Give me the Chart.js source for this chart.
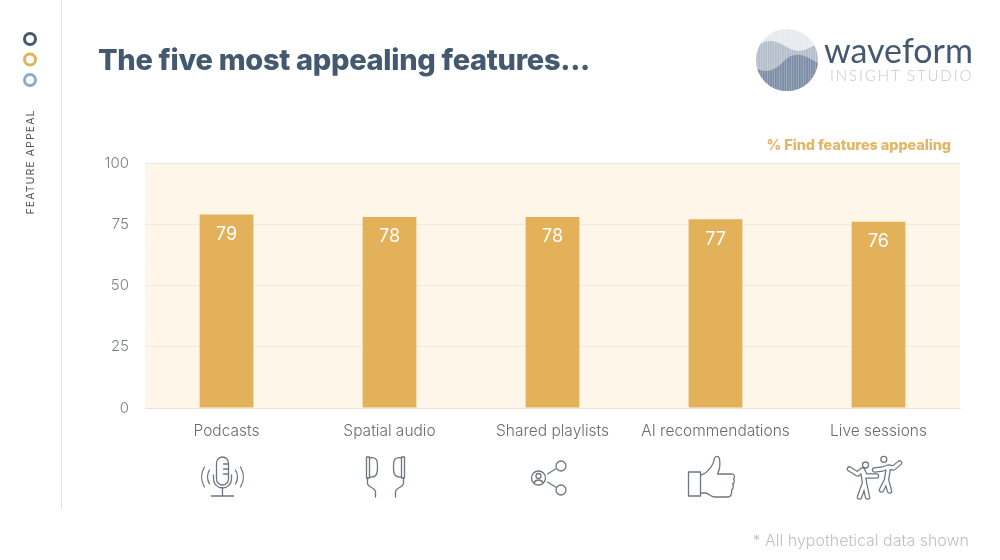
<!DOCTYPE html>
<html>
<head>
<meta charset="utf-8">
<title>Feature appeal</title>
<script src="https://cdn.jsdelivr.net/npm/chart.js@4/dist/chart.umd.min.js"></script>
<style>
  html, body { margin:0; padding:0; background:#fff; }
  body { width:1000px; height:560px; position:relative; overflow:hidden; font-family:Inter, sans-serif; }
  canvas { position:absolute; left:0; top:0; }
  .abs { position:absolute; white-space:nowrap; }
  #rule { left:61px; top:0; width:1px; height:510px; background:#e4e4e4; }
  #title { left:98px; top:40px; font-size:29px; line-height:40px; font-weight:800; color:#44586f; letter-spacing:-0.3px; }
  #side { left:30px; top:161.5px; transform:translate(-50%,-50%) rotate(-90deg); font-size:10.5px; letter-spacing:1.1px; color:#555; }
  #series { right:49px; top:136px; font-size:14.5px; line-height:18px; font-weight:800; color:#e2b665; letter-spacing:-0.1px; }
  #note { right:31px; top:530px; font-size:16px; line-height:20px; font-weight:300; color:#c0c0c0; }
  #brand { left:824px; top:29px; font-family:Lato, sans-serif; font-size:34px; line-height:42px; color:#44586f; }
  #studio { left:830px; top:66px; font-family:Lato, sans-serif; font-size:15px; line-height:18px; font-weight:300; letter-spacing:1.9px; color:#c4c7cb; }
</style>
</head>
<body>
<canvas id="chart" width="1000" height="560"></canvas>
<div class="abs" id="rule"></div>
<svg class="abs" style="left:20px;top:29px" width="20" height="62">
  <circle cx="10" cy="10" r="5.5" fill="none" stroke="#44586f" stroke-width="3"/>
  <circle cx="10" cy="30.5" r="5.5" fill="none" stroke="#e3b35c" stroke-width="3"/>
  <circle cx="10" cy="51" r="5.5" fill="none" stroke="#8aadc8" stroke-width="3"/>
</svg>
<div class="abs" id="side">FEATURE APPEAL</div>
<div class="abs" id="title">The five most appealing features...</div>
<svg class="abs" style="left:755px;top:28px" width="64" height="64" viewBox="0 0 64 64">
  <defs>
    <clipPath id="disc"><circle cx="32" cy="32" r="31"/></clipPath>
    <pattern id="stripes" width="2.4" height="4" patternUnits="userSpaceOnUse"><rect width="0.8" height="4" fill="#fff" opacity=".3"/></pattern>
  </defs>
  <g clip-path="url(#disc)">
    <rect width="64" height="64" fill="#e6e9ee"/>
    <path d="M0 20C10 10 20 12 30 18S48 26 64 14V64H0Z" fill="#b3bcc9"/>
    <path d="M0 40C12 46 20 42 28 34S44 22 64 36V64H0Z" fill="#7b8ca4"/>
    <rect width="64" height="64" fill="url(#stripes)"/>
  </g>
</svg>
<div class="abs" id="brand">waveform</div>
<div class="abs" id="studio">INSIGHT STUDIO</div>
<div class="abs" id="series">% Find features appealing</div>
<div class="abs" id="note">* All hypothetical data shown</div>

<script>
const categories = ['Podcasts', 'Spatial audio', 'Shared playlists', 'AI recommendations', 'Live sessions']
const appeal = [79, 78, 78, 77, 76]
const yTicks = [0, 25, 50, 75, 100]

const GREY = '#6f7680'

// icons are stroked around the centre of their category
const ICONS = [
  [
    'M-6 -14a6 6 0 0 1 12 0V2a6 6 0 0 1 -12 0Z',
    'M1 -13H6M1 -8H6M1 -3H6',
    'M-9 -2V2a9 9 0 0 0 18 0V-2',
    'M0 11V19M-11 19H11',
    'M-13 -7a14 14 0 0 0 0 14M13 -7a14 14 0 0 1 0 14',
    'M-18 -10a19 19 0 0 0 0 20M18 -10a19 19 0 0 1 0 20',
  ],
  [
    'M-19 -20h3v21h-3Z', 'M-16 -19C-8 -21 -8 -15 -8 -10S-8 1 -16 0',
    'M-18 1V6C-18 11 -10 10 -10 15V20',
    'M19 -20h-3v21h3Z', 'M16 -19C8 -21 8 -15 8 -10S8 1 16 0',
    'M18 1V6C18 11 10 10 10 15V20',
  ],
  [
    'M-3 1a7 7 0 1 0 -14 0a7 7 0 1 0 14 0Z',
    'M-7.5 -1a2.5 2.5 0 1 0 -5 0a2.5 2.5 0 1 0 5 0Z',
    'M-14.5 6C-13 2 -7 2 -5.5 6',
    'M17.5 -11a5 5 0 1 0 -10 0a5 5 0 1 0 10 0Z',
    'M17.5 13a5 5 0 1 0 -10 0a5 5 0 1 0 10 0Z',
    'M-1 -3L7 -8M-1 5L7 10',
  ],
  [
    'M-23 -5H-11V19H-23Z',
    'M-11 -2C-5 -3 2 -11 3 -19C5 -22 8 -20 8 -18C9 -12 8 -7 6 -3H21C24 -2 23 1 22 2C24 4 22 7 21 7C23 9 21 13 20 13C21 16 19 20 17 20H3C-1 20 -3 16 -6 16H-11',
  ],
  [
    'M-25 -8L-17 -3L-12 -7L-9 -1L2 -1M-12 -7L-10 6L-15 20M-10 6L-7 20',
    'M0 -7L8 -8L14 -10L19 -9L25 -14M14 -10L12 3L7 13M12 3L15 14',
  ],
]
const ICON_HEADS = [[-9, -12], [9.3, -17.7]]

const panel = {
  id: 'panel',
  beforeDatasetsDraw(chart) {
    const { ctx, chartArea: a } = chart
    ctx.save()
    ctx.globalCompositeOperation = 'destination-over'
    ctx.fillStyle = '#fdf6e9'
    ctx.fillRect(a.left, a.top, a.width, a.height)
    ctx.restore()
  },
}

const barLabels = {
  id: 'barLabels',
  afterDatasetsDraw(chart) {
    const { ctx } = chart
    const meta = chart.getDatasetMeta(0)
    ctx.save()
    ctx.fillStyle = '#fff'
    ctx.font = '18px Inter, sans-serif'
    ctx.textAlign = 'center'
    ctx.textBaseline = 'middle'
    meta.data.forEach((bar, i) => ctx.fillText(appeal[i], bar.x, bar.y + 20))
    ctx.restore()
  },
}

const icons = {
  id: 'icons',
  afterDraw(chart) {
    const { ctx, scales } = chart
    ctx.save()
    ctx.lineCap = 'round'
    ctx.lineJoin = 'round'
    ICONS.forEach((paths, i) => {
      ctx.save()
      ctx.translate(scales.x.getPixelForTick(i) - 4, 477)
      const dancers = i === 4
      const passes = dancers ? [[5.5, GREY], [3, '#fff']] : [[1.3, GREY]]
      passes.forEach(([w, c]) => {
        ctx.lineWidth = w
        ctx.strokeStyle = c
        paths.forEach(p => ctx.stroke(new Path2D(p)))
      })
      if (dancers) {
        ctx.lineWidth = 1.3
        ctx.strokeStyle = GREY
        ctx.fillStyle = '#fff'
        ICON_HEADS.forEach(([x, y]) => {
          ctx.beginPath()
          ctx.arc(x, y, 3, 0, Math.PI * 2)
          ctx.fill()
          ctx.stroke()
        })
      }
      ctx.restore()
    })
    ctx.restore()
  },
}

new Chart(document.getElementById('chart'), {
  type: 'bar',
  data: {
    labels: categories,
    datasets: [{ data: appeal, backgroundColor: '#e3b15a', barPercentage: 1, categoryPercentage: 0.33 }],
  },
  options: {
    responsive: false,
    animation: false,
    layout: { padding: { left: 0, right: 40, top: 163, bottom: 0 } },
    plugins: { legend: { display: false }, tooltip: { enabled: false } },
    scales: {
      x: {
        grid: { display: false },
        border: { color: '#e9e4d6' },
        ticks: { color: '#666c74', font: { family: 'Inter', size: 15.5, weight: 300 }, padding: 6, maxRotation: 0, autoSkip: false },
        afterFit: s => { s.height = 152 },
      },
      y: {
        min: 0,
        max: 100,
        grid: { color: '#efe9dc', drawTicks: false },
        border: { display: false },
        afterBuildTicks: s => { s.ticks = yTicks.map(v => ({ value: v })) },
        ticks: { color: '#7a7f86', font: { family: 'Inter', size: 15, weight: 300 }, padding: 16 },
        afterFit: s => { s.width = 145 },
      },
    },
  },
  plugins: [panel, barLabels, icons],
})
</script>
</body>
</html>
